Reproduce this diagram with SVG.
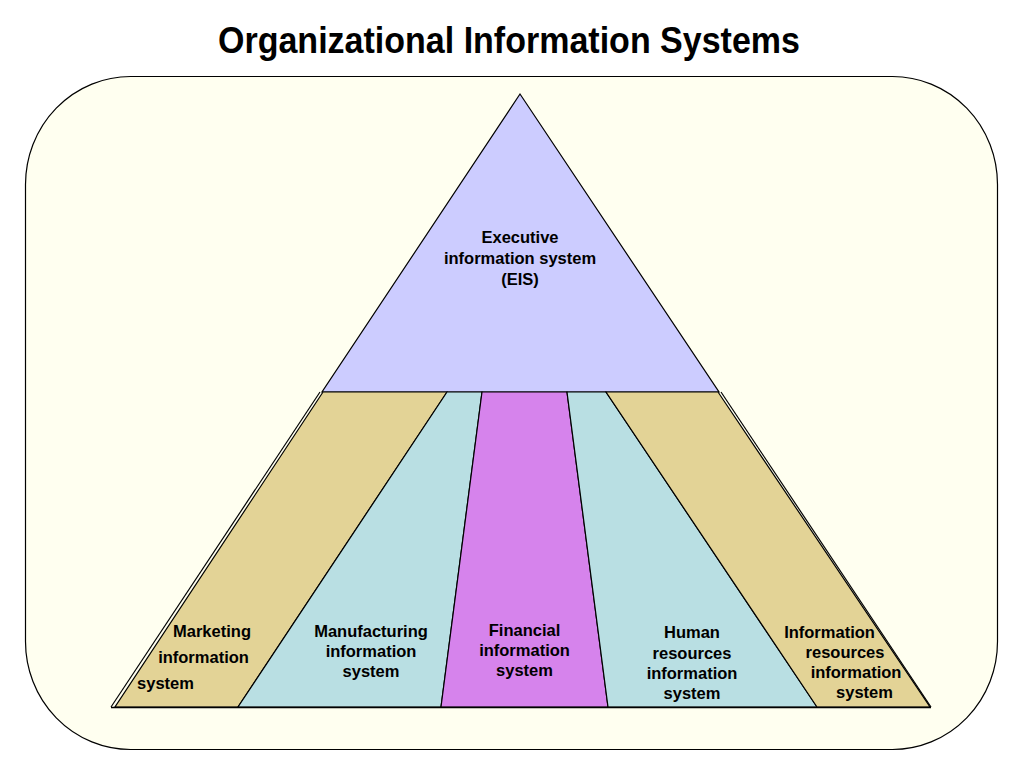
<svg xmlns="http://www.w3.org/2000/svg" width="1024" height="768" viewBox="0 0 1024 768">
<style>
.t{font-family:"Liberation Sans",Arial,Helvetica,sans-serif;font-weight:bold;font-size:16.5px;fill:#000}
.c{text-anchor:middle}
.s{stroke:#000;stroke-width:1.2;stroke-linejoin:miter}
</style>
<rect x="0" y="0" width="1024" height="768" fill="#ffffff"/>
<text x="509" y="53" text-anchor="middle" font-family="'Liberation Sans',Arial,sans-serif" font-weight="bold" font-size="36" textLength="582" lengthAdjust="spacingAndGlyphs">Organizational Information Systems</text>
<rect id="frame" x="25.5" y="76.5" width="972" height="673" rx="105" ry="108" fill="#FFFFF0" stroke="#000" stroke-width="1.2"/>
<g id="eis">
<polygon class="s" points="520,94 719,392 322,392" fill="#CCCCFF"/>
<text class="t c" x="520" y="243">Executive</text>
<text class="t c" x="520" y="264">information system</text>
<text class="t c" x="520" y="285">(EIS)</text>
</g>
<g id="marketing">
<polygon class="s" points="323,392 447,392 238,707 115,707" fill="#E3D396"/>
<text class="t c" x="212" y="637">Marketing</text>
<text class="t c" x="203.5" y="663">information</text>
<text class="t c" x="165.5" y="689">system</text>
</g>
<g id="manufacturing">
<polygon class="s" points="447,392 482,392 441,707 238,707" fill="#B9DFE3"/>
<text class="t c" x="371" y="637">Manufacturing</text>
<text class="t c" x="371" y="657">information</text>
<text class="t c" x="371" y="677">system</text>
</g>
<g id="financial">
<polygon class="s" points="482,392 567,392 608,707 441,707" fill="#D683EC"/>
<text class="t c" x="524.5" y="636">Financial</text>
<text class="t c" x="524.5" y="656">information</text>
<text class="t c" x="524.5" y="676">system</text>
</g>
<g id="human">
<polygon class="s" points="567,392 606,392 817,707 608,707" fill="#B9DFE3"/>
<text class="t c" x="692" y="638">Human</text>
<text class="t c" x="692" y="659">resources</text>
<text class="t c" x="692" y="679">information</text>
<text class="t c" x="692" y="699">system</text>
</g>
<g id="inforesources">
<polygon class="s" points="606,392 718,392 930,707 817,707" fill="#E3D396"/>
<text class="t c" x="829.5" y="638">Information</text>
<text class="t c" x="845" y="658">resources</text>
<text class="t c" x="856" y="678">information</text>
<text class="t c" x="864.5" y="698">system</text>
</g>
<g id="connectors" fill="none" stroke="#000" stroke-width="1.2">
<line x1="320" y1="392" x2="111" y2="707"/>
<line x1="721" y1="392" x2="931" y2="707"/>
<line x1="111" y1="707.5" x2="931" y2="707.5" stroke-width="1.6"/>
</g>
</svg>
